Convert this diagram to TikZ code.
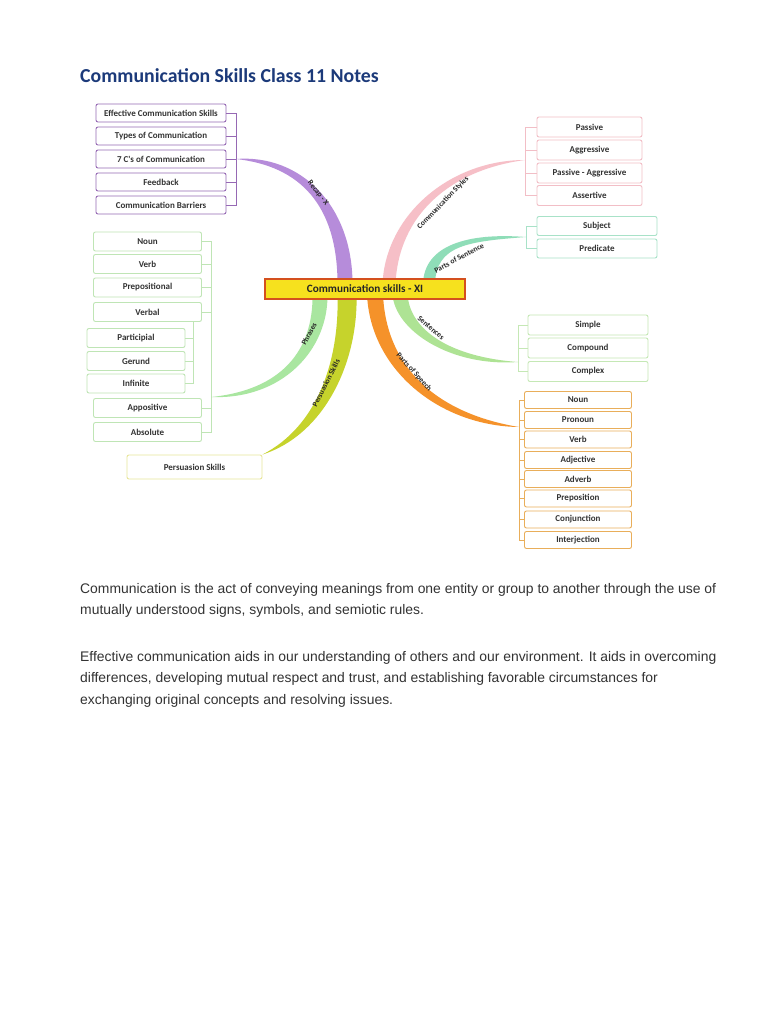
\documentclass[tikz,border=0pt]{standalone}
\usepackage{fontspec}
\setmainfont{Liberation Sans}
\newfontfamily\calibri{Carlito}
\usetikzlibrary{calc}
\definecolor{TitleBlue}{RGB}{28,58,122}
\definecolor{BodyGray}{RGB}{51,51,51}
\definecolor{CoreFill}{RGB}{246,225,30}
\definecolor{CoreLine}{RGB}{212,80,30}
\definecolor{RecapLine}{RGB}{150,105,180}
\definecolor{RecapBr}{RGB}{182,140,218}
\definecolor{StyleLine}{RGB}{242,190,198}
\definecolor{StyleBr}{RGB}{246,191,199}
\definecolor{PartsLine}{RGB}{168,226,200}
\definecolor{PartsBr}{RGB}{143,221,184}
\definecolor{SentLine}{RGB}{197,232,181}
\definecolor{SentBr}{RGB}{174,227,148}
\definecolor{SpeechLine}{RGB}{233,174,90}
\definecolor{SpeechBr}{RGB}{245,146,42}
\definecolor{PhraseLine}{RGB}{191,229,181}
\definecolor{PhraseBr}{RGB}{169,230,160}
\definecolor{PersLine}{RGB}{232,230,154}
\definecolor{PersBr}{RGB}{198,211,44}
\tikzset{
  leafbox/.style={draw=#1,line width=0.9pt,rounded corners=2pt,fill=white,
    minimum height=18pt,inner sep=1pt,text=black!80,
    font=\calibri\bfseries\fontsize{9}{10}\selectfont},
  brackline/.style={draw=#1,line width=0.8pt},
  branchlabel/.style={inner sep=0pt,text=black!85,
    font=\calibri\bfseries\fontsize{7.6}{9}\selectfont},
  corebox/.style={draw=CoreLine,line width=1.6pt,fill=CoreFill,
    minimum width=200pt,minimum height=20pt,inner sep=1pt,text=black!85,
    font=\calibri\bfseries\fontsize{11.2}{13}\selectfont},
  bodytext/.style={anchor=north west,align=left,inner sep=0pt,text=BodyGray,
    font=\fontsize{13.9}{21.7}\selectfont},
}
% tapered branch: colour, start, control 1, shift of control 1, control 2, end, half width
\newcommand\mapbranch[7]{%
  \fill[#1] (#2) .. controls ($(#3)+(#4)$) and ($(#5)+(-#7,0)$) .. ($(#6)+(-#7,0)$)
    -- ($(#6)+(#7,0)$) .. controls ($(#5)+(#7,0)$) and ($(#3)-(#4)$) .. (#2) -- cycle;}
\begin{document}
\begin{tikzpicture}[x=1pt,y=-1pt]
  \fill[white] (0,0) rectangle (768,1024);
  \useasboundingbox (0,0) rectangle (768,1024);
  \node[anchor=west,inner sep=0pt,text=TitleBlue,
        font=\calibri\bfseries\fontsize{19.8}{23}\selectfont] (title) at (80,76)
    {Communication Skills Class 11 Notes};

  % junctions of the brackets and ends of the branches
  \coordinate (recapJ) at (236,159);
  \coordinate (styleJ) at (525,160);
  \coordinate (partsJ) at (526,237);
  \coordinate (sentJ) at (518,362);
  \coordinate (speechJ) at (519,427);
  \coordinate (phraseJ) at (211,397);
  \coordinate (verbalJ) at (193,321);
  \coordinate (recapE) at (345,284);
  \coordinate (styleE) at (389,284);
  \coordinate (partsE) at (429,284);
  \coordinate (phraseE) at (320,294);
  \coordinate (persE) at (347,294);
  \coordinate (speechE) at (375,294);
  \coordinate (sentE) at (400,294);

  % leaves
  \foreach \nm/\txt/\y in {recA/Effective Communication Skills/113,
      recB/Types of Communication/136,recC/7 C's of Communication/159,
      recD/Feedback/182,recE/Communication Barriers/205}
    \node[leafbox=RecapLine,minimum width=130pt] (\nm) at (161,\y) {\txt};
  \foreach \nm/\txt/\y in {styA/Passive/127,styB/Aggressive/150,
      styC/Passive - Aggressive/173,styD/Assertive/195.5}
    \node[leafbox=StyleLine,minimum width=105pt,minimum height=20pt] (\nm) at (589.5,\y) {\txt};
  \foreach \nm/\txt/\y in {parA/Subject/226,parB/Predicate/248.5}
    \node[leafbox=PartsLine,minimum width=120pt,minimum height=19pt] (\nm) at (597,\y) {\txt};
  \foreach \nm/\txt/\y in {senA/Simple/325,senB/Compound/348,senC/Complex/371.5}
    \node[leafbox=SentLine,minimum width=120pt,minimum height=20pt] (\nm) at (588,\y) {\txt};
  \foreach \nm/\txt/\y in {spA/Noun/400,spB/Pronoun/420,spC/Verb/439.5,
      spD/Adjective/460,spE/Adverb/479,spF/Preposition/498.5,
      spG/Conjunction/519.5,spH/Interjection/540}
    \node[leafbox=SpeechLine,minimum width=107pt,minimum height=17pt] (\nm) at (578,\y) {\txt};
  \foreach \nm/\txt/\y in {phA/Noun/241.5,phB/Verb/264,phC/Prepositional/287.5,
      phD/Verbal/312,phH/Appositive/408,phI/Absolute/432}
    \node[leafbox=PhraseLine,minimum width=108pt,minimum height=19pt] (\nm) at (147.5,\y) {\txt};
  \foreach \nm/\txt/\y in {phE/Participial/338,phF/Gerund/361,phG/Infinite/383.5}
    \node[leafbox=PhraseLine,minimum width=98pt,minimum height=19pt] (\nm) at (136,\y) {\txt};
  \node[leafbox=PersLine,minimum width=135pt,minimum height=24pt] (pers) at (194.5,467)
    {Persuasion Skills};

  % brackets
  \foreach \nm in {recA,recB,recC,recD,recE}
    \draw[brackline=RecapLine] (\nm.east) -| (recapJ);
  \foreach \nm in {styA,styB,styC,styD}
    \draw[brackline=StyleLine] (\nm.west) -| (styleJ);
  \foreach \nm in {parA,parB}
    \draw[brackline=PartsLine] (\nm.west) -| (partsJ);
  \foreach \nm in {senA,senB,senC}
    \draw[brackline=SentLine] (\nm.west) -| (sentJ);
  \foreach \nm in {spA,spB,spC,spD,spE,spF,spG,spH}
    \draw[brackline=SpeechLine] (\nm.west) -| (speechJ);
  \foreach \nm in {phA,phB,phC,phD,phH,phI}
    \draw[brackline=PhraseLine] (\nm.east) -| (phraseJ);
  \foreach \nm in {phE,phF,phG}
    \draw[brackline=PhraseLine] (\nm.east) -| (verbalJ);

  % branches
  \mapbranch{RecapBr}{recapJ}{300,160}{0,6}{345,205}{recapE}{7.5}
  \mapbranch{StyleBr}{styleJ}{450,165}{0,-5}{392,215}{styleE}{6.5}
  \mapbranch{PartsBr}{partsJ}{468,237}{0,-4.5}{430,245}{partsE}{6}
  \mapbranch{SentBr}{sentJ}{450,362}{0,5}{402,330}{sentE}{7.5}
  \mapbranch{SpeechBr}{speechJ}{440,420}{0,6}{378,370}{speechE}{8}
  \mapbranch{PhraseBr}{phraseJ}{282,395}{0,-5}{321,350}{phraseE}{7.5}
  \mapbranch{PersBr}{pers.north east}{322,430}{-4,-4}{349,360}{persE}{9.5}

  \node[corebox] (core) at (365,289) {Communication skills - XI};

  % branch labels
  \node[branchlabel,rotate=-52] (recapL) at (318,193) {Recap - X};
  \node[branchlabel,rotate=46] (styleL) at (443,203) {Communication Styles};
  \node[branchlabel,rotate=28] (partsL) at (459,258) {Parts of Sentence};
  \node[branchlabel,rotate=-40] (sentL) at (431,328) {Sentences};
  \node[branchlabel,rotate=-48] (speechL) at (414,372) {Parts of Speech};
  \node[branchlabel,rotate=62] (phraseL) at (309,334) {Phrases};
  \node[branchlabel,rotate=63] (persL) at (326,383) {Persuasion Skills};

  % text below the map
  \node[bodytext] (para1) at (80,583)
    {Communication is the act of conveying meanings from one entity or group to another through the use of\\
     mutually understood signs, symbols, and semiotic rules.};
  \node[bodytext] (para2) at (80,651)
    {Effective communication aids in our understanding of others and our environment. It aids in overcoming\\
     differences, developing mutual respect and trust, and establishing favorable circumstances for\\
     exchanging original concepts and resolving issues.};
\end{tikzpicture}
\end{document}
